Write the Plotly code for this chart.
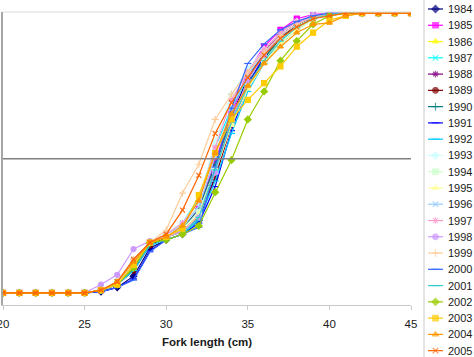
import plotly.graph_objects as go

# ---- data ----
lengths = list(range(20, 46))  # fork length, cm
years = [str(y) for y in range(1984, 2006)]

zeros = [0, 0, 0, 0, 0, 0]          # 20..25 cm
ones = [1, 1, 1, 1]                 # 42..45 cm

# values for 26..41 cm
v1984 = [0.005, 0.02, 0.06, 0.16, 0.19, 0.21, 0.26, 0.42, 0.63, 0.77, 0.86, 0.92, 0.96, 0.985, 1.0, 1.0]
v1985 = [0.01, 0.03, 0.10, 0.18, 0.20, 0.23, 0.30, 0.47, 0.64, 0.79, 0.88, 0.94, 0.98, 0.995, 1.0, 1.0]
v1986 = [0.01, 0.03, 0.09, 0.18, 0.20, 0.22, 0.28, 0.44, 0.60, 0.74, 0.83, 0.90, 0.95, 0.98, 0.995, 1.0]
v1987 = [0.01, 0.04, 0.12, 0.18, 0.21, 0.25, 0.34, 0.52, 0.66, 0.77, 0.85, 0.91, 0.96, 0.985, 1.0, 1.0]
v1988 = [0.01, 0.03, 0.09, 0.18, 0.20, 0.22, 0.28, 0.45, 0.62, 0.76, 0.86, 0.93, 0.97, 0.99, 1.0, 1.0]
v1989 = [0.01, 0.03, 0.08, 0.17, 0.20, 0.22, 0.27, 0.41, 0.60, 0.74, 0.84, 0.91, 0.96, 0.985, 1.0, 1.0]
v1990 = [0.01, 0.04, 0.11, 0.18, 0.20, 0.23, 0.30, 0.46, 0.63, 0.75, 0.84, 0.91, 0.95, 0.98, 0.995, 1.0]
v1991 = [0.005, 0.02, 0.05, 0.15, 0.19, 0.21, 0.25, 0.38, 0.58, 0.74, 0.85, 0.92, 0.96, 0.985, 1.0, 1.0]
v1992 = [0.01, 0.03, 0.08, 0.17, 0.19, 0.21, 0.26, 0.40, 0.57, 0.72, 0.82, 0.89, 0.94, 0.98, 0.995, 1.0]
v1993 = [0.01, 0.04, 0.11, 0.18, 0.21, 0.25, 0.33, 0.54, 0.71, 0.80, 0.87, 0.93, 0.97, 0.99, 1.0, 1.0]
v1994 = [0.01, 0.04, 0.11, 0.18, 0.20, 0.23, 0.29, 0.44, 0.61, 0.74, 0.83, 0.90, 0.95, 0.98, 0.995, 1.0]
v1995 = [0.01, 0.03, 0.10, 0.18, 0.20, 0.22, 0.28, 0.43, 0.60, 0.73, 0.82, 0.89, 0.94, 0.98, 0.995, 1.0]
v1996 = [0.01, 0.04, 0.11, 0.18, 0.21, 0.24, 0.31, 0.49, 0.66, 0.78, 0.86, 0.92, 0.96, 0.99, 1.0, 1.0]
v1997 = [0.01, 0.04, 0.12, 0.18, 0.21, 0.25, 0.33, 0.52, 0.69, 0.79, 0.87, 0.93, 0.97, 0.99, 1.0, 1.0]
v1998 = [0.03, 0.065, 0.157, 0.185, 0.20, 0.22, 0.27, 0.43, 0.62, 0.76, 0.85, 0.92, 0.96, 0.99, 1.0, 1.0]
v1999 = [0.01, 0.04, 0.12, 0.18, 0.225, 0.357, 0.46, 0.62, 0.71, 0.79, 0.86, 0.92, 0.96, 0.985, 1.0, 1.0]
v2000 = [0.005, 0.02, 0.046, 0.147, 0.19, 0.21, 0.235, 0.45, 0.66, 0.82, 0.89, 0.94, 0.97, 0.99, 1.0, 1.0]
v2001 = [0.01, 0.03, 0.09, 0.17, 0.19, 0.21, 0.27, 0.44, 0.61, 0.74, 0.83, 0.90, 0.95, 0.98, 0.995, 1.0]
v2002 = [0.01, 0.03, 0.09, 0.18, 0.19, 0.21, 0.24, 0.36, 0.475, 0.62, 0.72, 0.83, 0.90, 0.96, 0.99, 1.0]
v2003 = [0.01, 0.03, 0.10, 0.18, 0.20, 0.23, 0.35, 0.50, 0.62, 0.69, 0.75, 0.81, 0.88, 0.93, 0.975, 0.99]
v2004 = [0.01, 0.04, 0.11, 0.18, 0.20, 0.24, 0.33, 0.50, 0.64, 0.74, 0.82, 0.88, 0.93, 0.96, 0.965, 0.99]
v2005 = [0.01, 0.04, 0.12, 0.18, 0.21, 0.296, 0.42, 0.57, 0.68, 0.77, 0.85, 0.91, 0.95, 0.98, 0.99, 1.0]

series = [v1984, v1985, v1986, v1987, v1988, v1989, v1990, v1991, v1992, v1993, v1994,
          v1995, v1996, v1997, v1998, v1999, v2000, v2001, v2002, v2003, v2004, v2005]

reference_line = 0.48
x_ticks = [20, 25, 30, 35, 40, 45]

# ---- styles ----
colors = ["#000080", "#FF00FF", "#FFFF00", "#00FFFF", "#800080", "#800000", "#008080",
          "#0000FF", "#00CCFF", "#CCFFFF", "#CCFFCC", "#FFFF99", "#99CCFF", "#FF99CC",
          "#CC99FF", "#FFCC99", "#3366FF", "#33CCCC", "#99CC00", "#FFCC00", "#FF9900", "#FF6600"]
symbols = ["diamond", "square", "triangle-up", "x-thin", "asterisk", "circle", "cross-thin",
           "line-ew", "line-ew", "diamond", "square", "triangle-up", "x-thin", "asterisk",
           "circle", "cross-thin", "line-ew", "line-ew", "diamond", "square", "triangle-up", "x-thin"]

W, H = 474, 357
ML = 3
plot_l, plot_r, plot_t, plot_b = 3, 411, 12, 305
leg_left = 424
FONT = "Liberation Sans, Arial, sans-serif"

fig = go.Figure()

for i, yr in enumerate(years):
    yv = zeros + series[i] + ones
    fig.add_trace(go.Scatter(
        x=lengths, y=yv, mode="lines+markers", name=yr, showlegend=False,
        line=dict(color=colors[i], width=1.2),
        marker=dict(symbol=symbols[i], size=5, color=colors[i],
                    line=dict(color=colors[i], width=1.2)),
        xaxis="x", yaxis="y"))

# manual legend (pixel coordinates on a hidden axis)
leg_y0, leg_dy = 9, 16.27
annotations = []
for i, yr in enumerate(years):
    yy = leg_y0 + i * leg_dy
    fig.add_trace(go.Scatter(
        x=[428, 435.5, 443], y=[yy, yy, yy], mode="lines+markers", showlegend=False,
        hoverinfo="skip",
        line=dict(color=colors[i], width=1.2),
        marker=dict(symbol=symbols[i], size=[0, 5.5, 0], color=colors[i],
                    line=dict(color=colors[i], width=1.2)),
        xaxis="x2", yaxis="y2"))
    annotations.append(dict(x=446, y=yy, xref="x2", yref="y2", text=yr, showarrow=False,
                            xanchor="left", yanchor="middle",
                            font=dict(size=11, color="#1a1a1a", family=FONT)))

pw = W - ML
annotations.append(dict(
    x=((plot_l + plot_r) / 2 - ML) / pw, y=(H - 342) / H, xref="paper", yref="paper",
    text="<b>Fork length (cm)</b>", showarrow=False, xanchor="center", yanchor="middle",
    font=dict(size=11.5, color="#1a1a1a", family=FONT)))

shapes = [
    dict(type="line", xref="x", yref="y", x0=20, x1=45, y0=reference_line, y1=reference_line,
         line=dict(color="#808080", width=1.5)),
    dict(type="line", xref="paper", yref="paper", x0=0, x1=(plot_r - ML) / pw,
         y0=(H - plot_t) / H, y1=(H - plot_t) / H, line=dict(color="#d9d9d9", width=1)),
    dict(type="line", xref="paper", yref="paper", x0=(leg_left - ML) / pw, x1=(leg_left - ML) / pw,
         y0=0, y1=1, line=dict(color="#c8c8c8", width=1)),
]

fig.update_layout(
    width=W, height=H,
    margin=dict(l=ML, r=0, t=0, b=0),
    paper_bgcolor="white", plot_bgcolor="white",
    font=dict(family=FONT, size=11, color="#1a1a1a"),
    xaxis=dict(domain=[0, (plot_r - ML) / pw], range=[20, 45], tickvals=x_ticks,
               showgrid=False, zeroline=False, showline=True, linecolor="#c8c8c8", linewidth=1,
               ticks="outside", ticklen=4, tickcolor="#c8c8c8", ticklabelstandoff=4,
               ticklabeloverflow="allow",
               tickfont=dict(size=11.5, color="#1a1a1a"), automargin=False),
    yaxis=dict(domain=[(H - plot_b) / H, (H - plot_t) / H], range=[-0.043, 1.004],
               showgrid=False, zeroline=False, showline=True, linecolor="#a6a6a6", linewidth=1.5,
               showticklabels=False, ticks="", automargin=False),
    xaxis2=dict(domain=[(leg_left - ML) / pw, 1], range=[leg_left, W], visible=False,
                anchor="y2", fixedrange=True),
    yaxis2=dict(domain=[0, 1], range=[H, 0], visible=False, anchor="x2", fixedrange=True),
    annotations=annotations,
    shapes=shapes,
)

fig.write_html("out.html", config={"displayModeBar": False},
               post_script="document.body.style.margin='0px';document.body.style.padding='0px';")
